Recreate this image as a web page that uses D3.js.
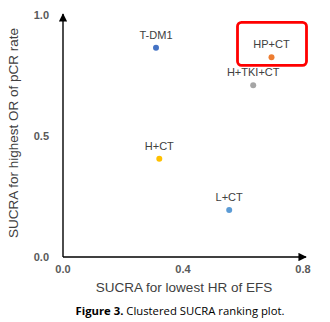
<!DOCTYPE html>
<html><head><meta charset="utf-8">
<script src="https://cdn.jsdelivr.net/npm/d3@7"></script>
<style>body{margin:0;background:#fff}svg{display:block}</style>
</head><body>
<script>
const names = ["T-DM1","HP+CT","H+TKI+CT","H+CT","L+CT"];
const xVals = [0.31,0.695,0.634,0.321,0.554];
const yVals = [0.865,0.825,0.71,0.406,0.194];
const colors = ["#4472C4","#ED7D31","#A5A5A5","#FFC000","#5B9BD5"];
const xTicks = [0.0,0.4,0.8];
const yTicks = [0.0,0.5,1.0];
const highlighted = "HP+CT";

const W=330,H=322;
const svg=d3.select("body").append("svg").attr("width",W).attr("height",H);
const x=d3.scaleLinear().domain([0,0.8]).range([63,303]);
const y=d3.scaleLinear().domain([0,1]).range([257,15]);

svg.append("defs").append("marker").attr("id","arr").attr("viewBox","0 0 10 10")
 .attr("refX",9).attr("refY",5).attr("markerWidth",6).attr("markerHeight",6)
 .attr("orient","auto-start-reverse").append("path").attr("d","M0,0L10,5L0,10z").attr("fill","#000");

svg.append("line").attr("x1",x(0)).attr("y1",y(0)).attr("x2",x(0.8)+3).attr("y2",y(0))
 .attr("stroke","#000").attr("stroke-width",1.4).attr("marker-end","url(#arr)");
svg.append("line").attr("x1",x(0)).attr("y1",y(0)).attr("x2",x(0)).attr("y2",y(1)-1)
 .attr("stroke","#000").attr("stroke-width",1.4).attr("marker-end","url(#arr)");

const tf=d3.format(".1f");
svg.selectAll(".xt").data(xTicks).join("text").attr("x",d=>x(d)).attr("y",273)
 .attr("text-anchor","middle").attr("font-family","Liberation Sans, Arial, sans-serif")
 .attr("font-size",11).attr("font-weight","bold").attr("fill","#595959").text(tf);
svg.selectAll(".yt").data(yTicks).join("text").attr("x",49).attr("y",d=>y(d)+4)
 .attr("text-anchor","end").attr("font-family","Liberation Sans, Arial, sans-serif")
 .attr("font-size",11).attr("font-weight","bold").attr("fill","#595959").text(tf);

svg.append("text").attr("x",184).attr("y",292).attr("text-anchor","middle")
 .attr("font-family","Liberation Sans, Arial, sans-serif").attr("font-size",13.5).attr("fill","#404040")
 .text("SUCRA for lowest HR of EFS");
svg.append("text").attr("transform","translate(18,133) rotate(-90)").attr("text-anchor","middle")
 .attr("font-family","Liberation Sans, Arial, sans-serif").attr("font-size",13.5).attr("fill","#404040")
 .text("SUCRA for highest OR of pCR rate");

const data=names.map((n,i)=>({n,x:xVals[i],y:yVals[i],c:colors[i]}));
const hi=data.find(d=>d.n===highlighted);
svg.append("rect").attr("x",x(hi.x)-34).attr("y",y(hi.y)-35).attr("width",69).attr("height",43)
 .attr("rx",4).attr("fill","none").attr("stroke","#FF0000").attr("stroke-width",2.8);

svg.selectAll(".pt").data(data).join("circle").attr("cx",d=>x(d.x)).attr("cy",d=>y(d.y))
 .attr("r",3).attr("fill",d=>d.c);
svg.selectAll(".lb").data(data).join("text").attr("x",d=>x(d.x)).attr("y",d=>y(d.y)-9)
 .attr("text-anchor","middle").attr("font-family","Liberation Sans, Arial, sans-serif")
 .attr("font-size",11).attr("fill","#404040").text(d=>d.n);

const cap=svg.append("text").attr("x",180).attr("y",315).attr("text-anchor","middle")
 .attr("font-family","Open Sans, Liberation Sans, sans-serif").attr("font-size",11.3).attr("fill","#000");
cap.append("tspan").attr("font-weight","bold").text("Figure 3.");
cap.append("tspan").text(" Clustered SUCRA ranking plot.");
</script>
</body></html>
